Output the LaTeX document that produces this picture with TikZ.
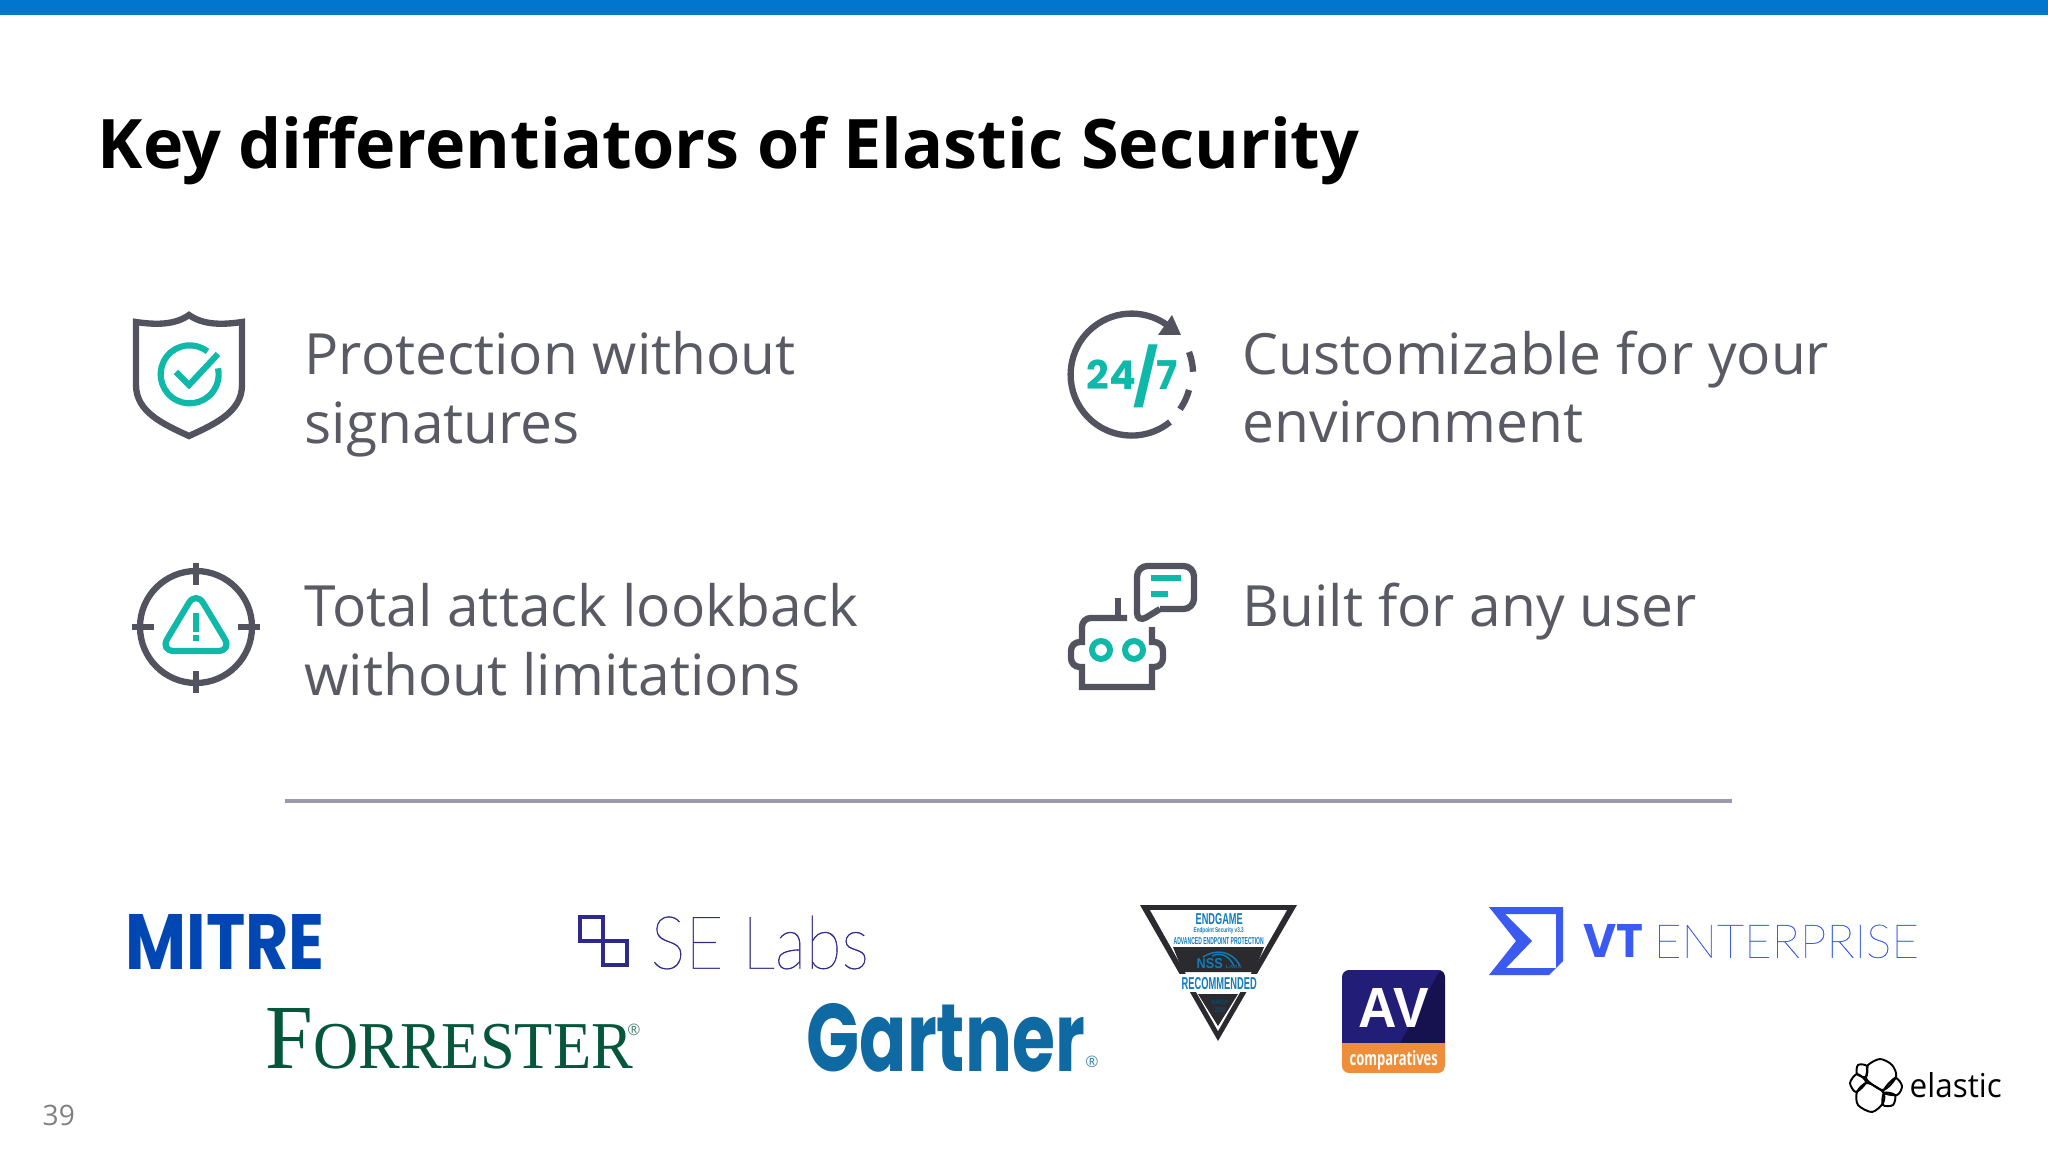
\documentclass[tikz,border=0pt]{standalone}
\usepackage{fontspec}
\usepackage{graphicx}
\setmainfont{Open Sans}
\newfontfamily\libsans{Liberation Sans}
\newfontfamily\libserif{Liberation Serif}
\newfontfamily\popfont{Poppins}
\newfontfamily\thinfont[FakeBold=0.5]{Lato Thin}
\definecolor{barblue}{HTML}{0077CC}
\definecolor{bodygray}{HTML}{5A5A64}
\definecolor{icongray}{HTML}{53535F}
\definecolor{iconteal}{HTML}{0FB9A9}
\definecolor{rulegray}{HTML}{9A9AAB}
\definecolor{mitreblue}{HTML}{0047B3}
\definecolor{selabs}{HTML}{2E2A8C}
\definecolor{vtblue}{HTML}{3B5BF0}
\definecolor{forrest}{HTML}{04573B}
\definecolor{gartner}{HTML}{0F6AA3}
\definecolor{nssblue}{HTML}{0F7CBE}
\definecolor{nssdark}{HTML}{2B2B2F}
\definecolor{avnavy}{HTML}{221E78}
\definecolor{avdark}{HTML}{16124F}
\definecolor{avorange}{HTML}{EE8E3A}
\tikzset{
  body/.style={anchor=north west,inner sep=0pt,align=left,text=bodygray,font=\fontsize{16.17}{19.5}\selectfont},
  logo/.style={anchor=north west,inner sep=0pt},
  iconline/.style={draw=icongray,line width=1.8pt},
  tealline/.style={draw=iconteal,line width=1.75pt},
  blobline/.style={draw=black,line width=0.55pt}
}
\newcommand{\fitbox}[3]{\resizebox{#1cm}{#2cm}{#3}}
\begin{document}
\begin{tikzpicture}[x=0.01cm,y=-0.01cm]
  \useasboundingbox (0,0) rectangle (2048,1152);
  \fill[white] (0,0) rectangle (2048,1152);
  \fill[barblue] (0,0) rectangle (2048,15);
  \node[anchor=base west,inner sep=0pt,font=\fontsize{19.42}{23}\selectfont\bfseries] (title) at (97,169) {Key differentiators of Elastic Security};

  \node[body] (protect) at (304,331) {Protection without\\signatures};
  \node[body] (custom) at (1242,330) {Customizable for your\\environment};
  \node[body] (lookback) at (304,583) {Total attack lookback\\without limitations};
  \node[body] (user) at (1242,582) {Built for any user};

  % shield
  \draw[iconline,line join=miter] (136,322) .. controls (156,325) and (175,325) .. (189,315) .. controls (203,325) and (222,325) .. (242,322)
    -- (242,385) .. controls (242,412) and (215,424) .. (189,436) .. controls (163,424) and (136,412) .. (136,385) -- cycle;
  \draw[tealline] (207.5,351.5) arc (-52:-360+(-12):29);
  \draw[tealline] (176,372) -- (189,385) -- (218,354);

  % target
  \draw[iconline] (196,627) circle (56);
  \draw[iconline] (196,563) -- (196,585);
  \draw[iconline] (196,671) -- (196,693);
  \draw[iconline] (132,627) -- (154,627);
  \draw[iconline] (238,627) -- (260,627);
  \draw[tealline,rounded corners=4pt] (196,591) -- (232,651) -- (160,651) -- cycle;
  \draw[tealline] (196,613) -- (196,632);
  \draw[tealline] (196,635) -- (196,641);

  % clock
  \draw[iconline] (1170,422) arc (51:310:61);
  \fill[icongray] (1172,315) -- (1158,335) -- (1181,335) -- cycle;
  \draw[iconline] (1189,352) arc (-21:-2:61);
  \draw[iconline] (1189,390) arc (15:35:61);
  \node[anchor=base west,inner sep=0pt,text=iconteal] (clocktext) at (1086,390) {\resizebox{0.91cm}{!}{\popfont\bfseries 24\hspace{-0.06em}\raisebox{-0.2em}{\scalebox{1.4}{/}}\hspace{-0.06em}7}};

  % robot
  \draw[iconline,rounded corners=3pt] (1160,609) -- (1194,609) -- (1194,566) -- (1137,566) -- (1137,623) [sharp corners] -- (1160,609);
  \draw[tealline] (1151,578) -- (1181,578);
  \draw[tealline] (1151,594) -- (1168,594);
  \draw[iconline] (1118,598) -- (1118,618);
  \draw[iconline,rounded corners=2.5pt] (1127,618) -- (1082,618) [sharp corners] -- (1082,642) [rounded corners=2.5pt] -- (1071,642) -- (1071,667) [sharp corners] -- (1082,667) -- (1082,687) -- (1152,687) -- (1152,667) [rounded corners=2.5pt] -- (1163,667) -- (1163,642) [sharp corners] -- (1152,642) -- (1152,627);
  \draw[tealline,line width=1.7pt] (1101,650) circle (9);
  \draw[tealline,line width=1.7pt] (1134,650) circle (9);

  \draw[draw=rulegray,line width=1.1pt] (285,801) -- (1732,801);

  % logos
  \node[logo,text=mitreblue] (mitre) at (125,914) {\fitbox{1.99}{0.55}{\popfont\bfseries MITRE}};
  \draw[selabs,line width=0.9pt] (580,917) rectangle (603,941);
  \draw[selabs,line width=0.9pt] (603,941) rectangle (627,965);
  \node[logo,text=selabs] (selabs) at (650,915) {\fitbox{2.18}{0.53}{\thinfont SE Labs}};
  \node[logo,text=forrest] (forrester) at (265,1008) {\fitbox{3.67}{0.60}{\libserif F{\fontsize{7.3}{8}\selectfont ORRESTER}}};
  \node[anchor=center,inner sep=0pt,text=forrest!70,font=\fontsize{4.5}{5}\selectfont] (forrestermark) at (634,1030) {\textregistered};
  \node[logo,text=gartner] (gartnerlogo) at (806,1003) {\fitbox{2.78}{0.68}{\popfont\bfseries Gartner}};
  \node[anchor=center,inner sep=0pt,text=gartner!80,font=\fontsize{4.5}{5}\selectfont] (gartnermark) at (1092,1062) {\textregistered};

  % nss badge
  \fill[nssdark] (1140,905) -- (1297,905) -- (1218,1041) -- cycle;
  \fill[white] (1150,910) -- (1287,910) -- (1218,1031) -- cycle;
  \fill[nssdark] (1173,947) -- (1264,947) -- (1254,972) -- (1183,972) -- cycle;
  \fill[nssdark] (1198,994) -- (1238,994) -- (1218,1026) -- cycle;
  \fill[white] (1176,974) rectangle (1260,992);
  \node[logo,text=nssblue] (endgame) at (1195,913) {\fitbox{0.47}{0.11}{\libsans\bfseries ENDGAME}};
  \node[logo,text=nssblue] (endpoint) at (1193,927) {\fitbox{0.50}{0.05}{\libsans\bfseries Endpoint Security v3.3}};
  \node[logo,text=nssblue] (advanced) at (1173,937) {\fitbox{0.90}{0.07}{\libsans\bfseries ADVANCED ENDPOINT PROTECTION}};
  \draw[nssblue,line width=0.4pt] (1203,957) .. controls (1215,949) and (1232,950) .. (1240,966);
  \draw[nssblue,line width=0.4pt] (1212,956) .. controls (1220,952) and (1229,955) .. (1234,966);
  \node[logo,text=nssblue] (nss) at (1196,958) {\fitbox{0.26}{0.10}{\libsans\bfseries NSS}};
  \node[logo,text=nssblue] (labs) at (1225,965) {\fitbox{0.16}{0.03}{\libsans LABS}};
  \node[logo,text=nssblue] (recommended) at (1181,977) {\fitbox{0.75}{0.12}{\libsans\bfseries RECOMMENDED}};
  \node[logo,text=nssblue!60!black] (march) at (1211,999) {\fitbox{0.16}{0.045}{\libsans\bfseries MARCH}};
  \node[logo,text=nssblue!60!black] (year) at (1214,1007) {\fitbox{0.11}{0.05}{\libsans\bfseries 2019}};

  % av badge
  \begin{scope}
    \clip[rounded corners=2pt] (1342,970) rectangle (1445,1073);
    \fill[avnavy] (1342,970) rectangle (1445,1043);
    \fill[avdark] (1400,1043) -- (1440,970) -- (1445,970) -- (1445,1043) -- cycle;
    \fill[avorange] (1342,1043) rectangle (1445,1073);
  \end{scope}
  \node[logo,text=white] (avtext) at (1358,988) {\fitbox{0.70}{0.39}{\libsans\bfseries AV}};
  \node[logo,text=white] (comparatives) at (1349,1050) {\fitbox{0.88}{0.15}{\bfseries comparatives}};

  % vt logo
  \fill[vtblue,even odd rule] (1489,907) -- (1563,907) -- (1563,961) -- (1549,975) -- (1489,975) -- (1516,941) -- cycle
    (1505,914) -- (1556,914) -- (1556,968) -- (1506,968) -- (1532,941) -- cycle;
  \node[logo,text=vtblue] (vt) at (1583,924) {\fitbox{0.60}{0.33}{\popfont\bfseries VT}};
  \node[logo,text=vtblue] (enterprise) at (1653,924) {\fitbox{2.65}{0.33}{\thinfont ENTERPRISE}};

  % elastic logo
  \draw[blobline] plot[smooth cycle] coordinates {(1868,1065) (1880,1059) (1892,1065) (1896,1077) (1883,1090) (1867,1080) (1867,1072)};
  \draw[blobline] plot[smooth cycle] coordinates {(1867,1083) (1883,1092) (1883,1103) (1872,1112) (1858,1105) (1857,1092)};
  \draw[blobline] plot[smooth cycle] coordinates {(1867,1066) (1858,1065) (1857,1074) (1866,1077)};
  \draw[blobline] plot[smooth cycle] coordinates {(1857,1074) (1850,1083) (1856,1092) (1866,1082)};
  \draw[blobline] plot[smooth cycle] coordinates {(1895,1078) (1902,1086) (1897,1095) (1883,1092)};
  \draw[blobline] plot[smooth cycle] coordinates {(1884,1093) (1895,1095) (1893,1105) (1883,1105)};
  \node[logo,text=black] (elasticname) at (1909,1072) {\fitbox{0.92}{0.25}{elastic}};

  \node[anchor=base west,inner sep=0pt,text=gray,font=\fontsize{8}{10}\selectfont] (pagenum) at (42,1125) {39};
\end{tikzpicture}
\end{document}
